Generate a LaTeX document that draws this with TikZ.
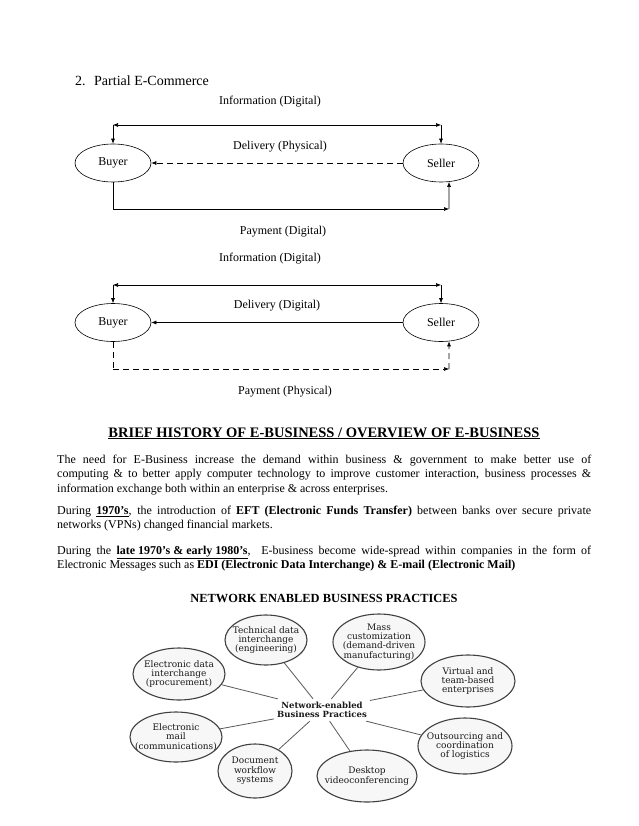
\documentclass[tikz,border=0pt]{standalone}
\usepackage{fontspec}
\setmainfont{Liberation Serif}
\newfontfamily\figfont{DejaVu Serif}
\usetikzlibrary{arrows.meta,shapes.geometric,calc}

\begin{document}
\begin{tikzpicture}[x=1pt,y=-1pt,
    every node/.style={font=\fontsize{12}{14.3}\selectfont,inner sep=0pt},
    party/.style={draw,ellipse,line width=.6pt,minimum width=76pt,minimum height=38pt},
    flow/.style={line width=.6pt,-{Latex[length=5pt,width=4pt]}},
    twoway/.style={line width=.6pt,{Latex[length=5pt,width=4pt]}-{Latex[length=5pt,width=4pt]}},
    plain/.style={line width=.6pt},
    dashline/.style={dash pattern=on 6pt off 4pt},
    bubble/.style={draw=black!75,line width=1.1pt,ellipse,fill=black!3},
    bubbletext/.style={font=\figfont\fontsize{9}{9.4}\selectfont,align=center,text=black!90},
    spoke/.style={draw=black!65,line width=.8pt}]
    \useasboundingbox (0,0) rectangle (638,826);
    % first diagram: delivery physical
    \node[anchor=base west,font=\fontsize{14}{16}\selectfont] (num) at (75,86) {2.};
    \node[anchor=base west,font=\fontsize{14}{16}\selectfont] (title) at (94,86) {Partial E-Commerce};
    \node (info1) at (270,102) {Information (Digital)};
    \node[party] (buyer1) at (113,163) {Buyer};
    \node[party] (seller1) at (441,163) {Seller};
    \coordinate (tl1) at (113,125);
    \coordinate (tr1) at (441,125);
    \coordinate (bl1) at (113,209);
    \coordinate (br1) at (449,209);
    \draw[twoway] (tl1) -- (tr1);
    \draw[flow] (tl1) -- (buyer1);
    \draw[flow] (tr1) -- (seller1);
    \node (deliv1) at (280,147) {Delivery (Physical)};
    \draw[flow,dashline] (seller1) -- (buyer1);
    \draw[plain] (buyer1.south) -- (bl1);
    \draw[flow] (bl1) -- (br1);
    \draw[flow] (br1) -- (seller1.-67);
    \node (pay1) at (283,232) {Payment (Digital)};
    % second diagram: delivery digital
    \node (info2) at (270,259) {Information (Digital)};
    \node[party] (buyer2) at (113,322.5) {Buyer};
    \node[party] (seller2) at (441,322.5) {Seller};
    \coordinate (tl2) at (113,285);
    \coordinate (tr2) at (441,285);
    \coordinate (bl2) at (113,369);
    \coordinate (br2) at (449,369);
    \draw[twoway] (tl2) -- (tr2);
    \draw[flow] (tl2) -- (buyer2);
    \draw[flow] (tr2) -- (seller2);
    \node (deliv2) at (277,306) {Delivery (Digital)};
    \draw[flow] (seller2) -- (buyer2);
    \draw[plain,dashline] (buyer2.south) -- (bl2);
    \draw[flow,dashline] (bl2) -- (br2);
    \draw[flow,dashline] (br2) -- (seller2.-67);
    \node (pay2) at (285,392) {Payment (Physical)};
    % history text
    \node[anchor=base,font=\fontsize{14.5}{16}\selectfont\bfseries] (hist) at (324,437)
        {\underline{BRIEF HISTORY OF E-BUSINESS / OVERVIEW OF E-BUSINESS}};
    \node[anchor=north west,text width=534pt,align=justify] (body) at (57,455) {%
        The need for E-Business increase the demand within business \& government to make better use of\linebreak
        computing \& to better apply computer technology to improve customer interaction, business processes \&\linebreak
        information exchange both within an enterprise \& across enterprises.\par\vspace{7.7pt}
        During \underline{\textbf{1970's}}, the introduction of \textbf{EFT (Electronic Funds Transfer)} between banks over secure private\linebreak
        networks (VPNs) changed financial markets.\par\vspace{11.7pt}
        During the \underline{\textbf{late 1970's \& early 1980's}},\ \ E-business become wide-spread within companies in the form of\linebreak
        Electronic Messages such as \textbf{EDI (Electronic Data Interchange) \& E-mail (Electronic Mail)}\par};
    \node[anchor=base,font=\fontsize{12.4}{14.3}\selectfont\bfseries] (nebp) at (324,602)
        {NETWORK ENABLED BUSINESS PRACTICES};
    % network enabled business practices figure
    \node[font=\figfont\bfseries\fontsize{8.5}{9.3}\selectfont,align=center,inner sep=3pt,text=black!90] (hub) at (322,710)
        {Network-enabled\\Business Practices};
    \node[bubble,minimum width=82pt,minimum height=50pt,
        label={[bubbletext]center:Technical data\\interchange\\(engineering)}] (tech) at (266,640) {};
    \node[bubble,minimum width=92pt,minimum height=56pt,
        label={[bubbletext]center:Mass\\customization\\(demand-driven\\manufacturing)}] (mass) at (379,642) {};
    \node[bubble,minimum width=92pt,minimum height=52pt,
        label={[bubbletext]center:Electronic data\\interchange\\(procurement)}] (edi) at (179,674) {};
    \node[bubble,minimum width=94pt,minimum height=52pt,
        label={[bubbletext]center:Virtual and\\team-based\\enterprises}] (virtual) at (468,681) {};
    \node[bubble,minimum width=92pt,minimum height=50pt,
        label={[bubbletext]center:Electronic\\mail\\(communications)}] (email) at (176,737) {};
    \node[bubble,minimum width=94pt,minimum height=56pt,
        label={[bubbletext]center:Outsourcing and\\coordination\\of logistics}] (outsrc) at (465,746) {};
    \node[bubble,minimum width=74pt,minimum height=54pt,
        label={[bubbletext]center:Document\\workflow\\systems}] (docflow) at (255,771) {};
    \node[bubble,minimum width=100pt,minimum height=52pt,
        label={[bubbletext]center:Desktop\\videoconferencing}] (desktop) at (367,776) {};
    \foreach \leaf in {tech,mass,edi,virtual,email,outsrc,docflow,desktop}
        \draw[spoke] (hub) -- (\leaf);
\end{tikzpicture}
\end{document}
